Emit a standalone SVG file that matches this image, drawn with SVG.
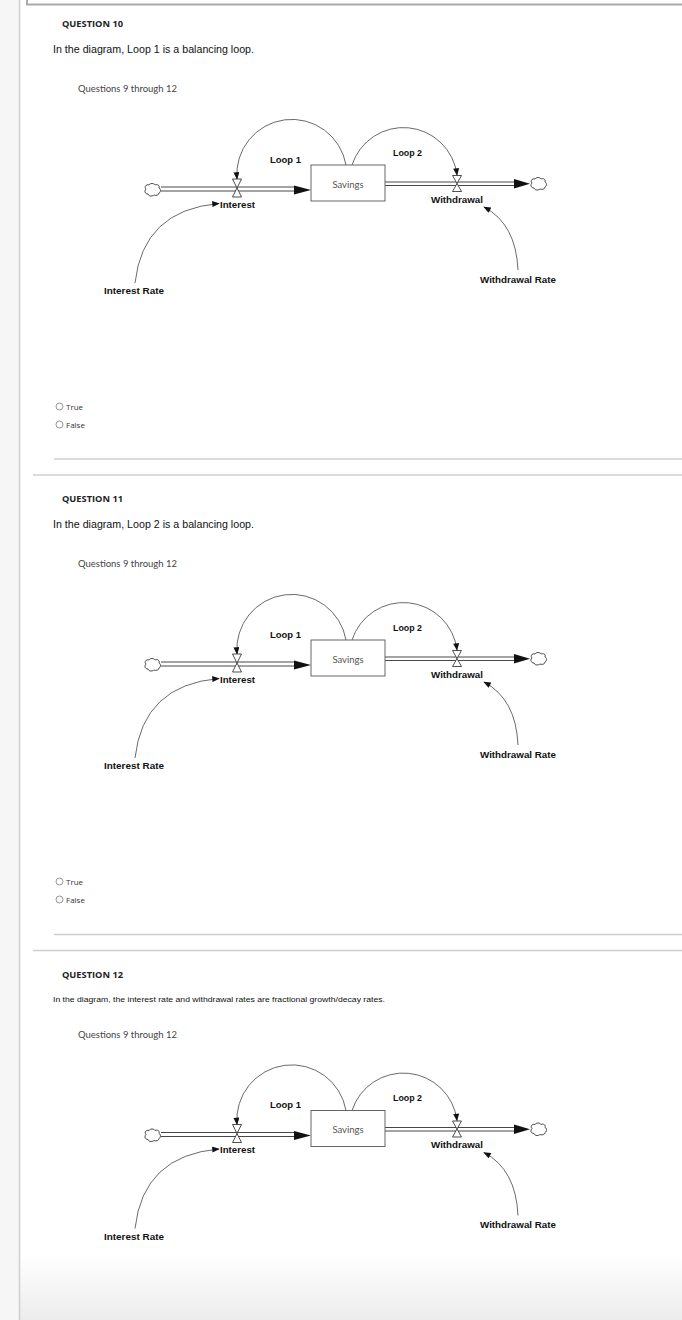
<svg xmlns="http://www.w3.org/2000/svg" xmlns:xlink="http://www.w3.org/1999/xlink" width="682" height="1320" viewBox="0 0 682 1320">
<style>
.hdr{font-family:"Open Sans","Liberation Sans",sans-serif;font-weight:bold;font-size:9px;fill:#222}
.q{font-family:"Liberation Sans",Arial,sans-serif;font-size:10px;fill:#111}
.qs{font-family:"Liberation Sans",Arial,sans-serif;font-size:8px;fill:#111}
.cap{font-family:Lato,"Open Sans",sans-serif;font-size:8.5px;fill:#444}
.opt{font-family:"Open Sans","Liberation Sans",sans-serif;font-size:8px;fill:#333}
.radio{fill:#fff;stroke:#777;stroke-width:0.8}
.sep{stroke:#cfcfcf;stroke-width:1.6}
.lbl{font-family:"Liberation Sans",Arial,sans-serif;font-weight:bold;font-size:9.5px;fill:#111}
.stock{fill:#fff;stroke:#666;stroke-width:1}
.stxt{font-family:Lato,"Open Sans",sans-serif;font-size:9.5px;fill:#555}
.pipe{stroke:#333;stroke-width:0.9;fill:none}
.valve{fill:#fff;stroke:#222;stroke-width:0.8}
.cloud{fill:#fff;stroke:#333;stroke-width:0.9}
.head{fill:#111}
.link{fill:none;stroke:#444;stroke-width:0.8}
</style>
<defs>
<marker id="ah" viewBox="0 0 10 8" refX="9" refY="4" markerWidth="9" markerHeight="6" markerUnits="userSpaceOnUse" orient="auto">
<path d="M0,0 L10,4 L0,8 z" fill="#111"/>
</marker>
<path id="cloudshape" d="M-5,5 c-3,0 -4,-3 -2,-5 c-2,-2 0,-5 3,-4 c1,-2 5,-2 6,0 c2,-1 5,0 4,3 c2,1 2,4 0,5 c0,2 -3,3 -5,2 c-1,1 -5,2 -6,-1 z"/>
<linearGradient id="fade" x1="0" y1="0" x2="0" y2="1">
<stop offset="0" stop-color="#ffffff"/>
<stop offset="1" stop-color="#ececec"/>
</linearGradient>
</defs>

<g id="page">
<rect x="0" y="0" width="682" height="1320" fill="#ffffff"/>
<rect x="0" y="0" width="19" height="1320" fill="#f6f6f6"/>
<rect x="20" y="1255" width="662" height="65" fill="url(#fade)"/>
<line x1="19.5" y1="0" x2="19.5" y2="1320" stroke="#cfcfcf" stroke-width="1.5"/>
<path d="M27,0 V4.5 H682" fill="none" stroke="#aaaaaa" stroke-width="2"/>
</g>

<!-- QUESTION 10 -->
<g id="q10">
<text class="hdr" x="62" y="27" textLength="61" lengthAdjust="spacingAndGlyphs">QUESTION 10</text>
<text class="q" x="53" y="53" textLength="201" lengthAdjust="spacingAndGlyphs">In the diagram, Loop 1 is a balancing loop.</text>
<text class="cap" x="78" y="92" textLength="99" lengthAdjust="spacingAndGlyphs">Questions 9 through 12</text>
<circle class="radio" cx="59.5" cy="406.5" r="3.5"/>
<text class="opt" x="66" y="409.5">True</text>
<circle class="radio" cx="59.5" cy="424.5" r="3.5"/>
<text class="opt" x="66" y="427.5">False</text>
<line class="sep" x1="54" y1="459" x2="682" y2="459"/>
<line class="sep" x1="33" y1="475" x2="682" y2="475"/>
</g>

<g id="diagram1">
<g id="d1-links">
<path class="pipe" d="M161,187 H296 M161,191 H296"/>
<path class="head" d="M294,185.5 L311,190 L294,194.5 z"/>
<path class="pipe" d="M385,182 H516 M385,185.5 H516"/>
<path class="head" d="M514,179 L530,183.7 L514,188.4 z"/>
<path class="link" d="M346,165 A55,55 0 0 0 237,179" marker-end="url(#ah)"/>
<path class="link" d="M352,165 A54,54 0 0 1 457,175" marker-end="url(#ah)"/>
<path class="link" d="M135,283 Q143,210 219,203.5" marker-end="url(#ah)"/>
<path class="link" d="M518,270 Q516,224 484,207" marker-end="url(#ah)"/>
</g>
<g id="d1-cloud-in"><use href="#cloudshape" class="cloud" x="153" y="189"/></g>
<g id="d1-savings"><rect class="stock" x="311" y="165" width="74" height="36"/><text class="stxt" x="348" y="187.5" text-anchor="middle">Savings</text></g>
<g id="d1-interest"><path class="valve" d="M232.5,179 L241.5,179 L237,188 z M237,188 L241.5,197 L232.5,197 z"/><text class="lbl" x="220" y="207.5" textLength="35" lengthAdjust="spacingAndGlyphs">Interest</text></g>
<g id="d1-withdrawal"><path class="valve" d="M452.5,175.5 L461.5,175.5 L457,183.5 z M457,183.5 L461.5,191.5 L452.5,191.5 z"/><text class="lbl" x="431" y="202.5" textLength="52" lengthAdjust="spacingAndGlyphs">Withdrawal</text></g>
<g id="d1-cloud-out"><use href="#cloudshape" class="cloud" x="539" y="183"/></g>
<g id="d1-interest-rate"><text class="lbl" x="104" y="294" textLength="60" lengthAdjust="spacingAndGlyphs">Interest Rate</text></g>
<g id="d1-withdrawal-rate"><text class="lbl" x="480" y="282.5" textLength="76" lengthAdjust="spacingAndGlyphs">Withdrawal Rate</text></g>
<g id="d1-loop1"><text class="lbl" x="270" y="162.5" textLength="31" lengthAdjust="spacingAndGlyphs">Loop 1</text></g>
<g id="d1-loop2"><text class="lbl" x="393" y="155.5" textLength="29" lengthAdjust="spacingAndGlyphs">Loop 2</text></g>
</g>

<!-- QUESTION 11 -->
<g id="q11" transform="translate(0,475)">
<text class="hdr" x="62" y="27" textLength="61" lengthAdjust="spacingAndGlyphs">QUESTION 11</text>
<text class="q" x="53" y="53" textLength="201" lengthAdjust="spacingAndGlyphs">In the diagram, Loop 2 is a balancing loop.</text>
<text class="cap" x="78" y="92" textLength="99" lengthAdjust="spacingAndGlyphs">Questions 9 through 12</text>
<circle class="radio" cx="59.5" cy="406.5" r="3.5"/>
<text class="opt" x="66" y="409.5">True</text>
<circle class="radio" cx="59.5" cy="424.5" r="3.5"/>
<text class="opt" x="66" y="427.5">False</text>
<line class="sep" x1="54" y1="459.5" x2="682" y2="459.5"/>
<line class="sep" x1="33" y1="475.5" x2="682" y2="475.5"/>
</g>

<g id="diagram2" transform="translate(0,475)">
<g id="d2-links">
<path class="pipe" d="M161,187 H296 M161,191 H296"/>
<path class="head" d="M294,185.5 L311,190 L294,194.5 z"/>
<path class="pipe" d="M385,182 H516 M385,185.5 H516"/>
<path class="head" d="M514,179 L530,183.7 L514,188.4 z"/>
<path class="link" d="M346,165 A55,55 0 0 0 237,179" marker-end="url(#ah)"/>
<path class="link" d="M352,165 A54,54 0 0 1 457,175" marker-end="url(#ah)"/>
<path class="link" d="M135,283 Q143,210 219,203.5" marker-end="url(#ah)"/>
<path class="link" d="M518,270 Q516,224 484,207" marker-end="url(#ah)"/>
</g>
<g id="d2-cloud-in"><use href="#cloudshape" class="cloud" x="153" y="189"/></g>
<g id="d2-savings"><rect class="stock" x="311" y="165" width="74" height="36"/><text class="stxt" x="348" y="187.5" text-anchor="middle">Savings</text></g>
<g id="d2-interest"><path class="valve" d="M232.5,179 L241.5,179 L237,188 z M237,188 L241.5,197 L232.5,197 z"/><text class="lbl" x="220" y="207.5" textLength="35" lengthAdjust="spacingAndGlyphs">Interest</text></g>
<g id="d2-withdrawal"><path class="valve" d="M452.5,175.5 L461.5,175.5 L457,183.5 z M457,183.5 L461.5,191.5 L452.5,191.5 z"/><text class="lbl" x="431" y="202.5" textLength="52" lengthAdjust="spacingAndGlyphs">Withdrawal</text></g>
<g id="d2-cloud-out"><use href="#cloudshape" class="cloud" x="539" y="183"/></g>
<g id="d2-interest-rate"><text class="lbl" x="104" y="294" textLength="60" lengthAdjust="spacingAndGlyphs">Interest Rate</text></g>
<g id="d2-withdrawal-rate"><text class="lbl" x="480" y="282.5" textLength="76" lengthAdjust="spacingAndGlyphs">Withdrawal Rate</text></g>
<g id="d2-loop1"><text class="lbl" x="270" y="162.5" textLength="31" lengthAdjust="spacingAndGlyphs">Loop 1</text></g>
<g id="d2-loop2"><text class="lbl" x="393" y="155.5" textLength="29" lengthAdjust="spacingAndGlyphs">Loop 2</text></g>
</g>

<!-- QUESTION 12 -->
<g id="q12">
<text class="hdr" x="62" y="978" textLength="61" lengthAdjust="spacingAndGlyphs">QUESTION 12</text>
<text class="qs" x="53" y="1002" textLength="332" lengthAdjust="spacingAndGlyphs">In the diagram, the interest rate and withdrawal rates are fractional growth/decay rates.</text>
<text class="cap" x="78" y="1038" textLength="99" lengthAdjust="spacingAndGlyphs">Questions 9 through 12</text>
</g>

<g id="diagram3" transform="translate(0,945.5)">
<g id="d3-links">
<path class="pipe" d="M161,187 H296 M161,191 H296"/>
<path class="head" d="M294,185.5 L311,190 L294,194.5 z"/>
<path class="pipe" d="M385,182 H516 M385,185.5 H516"/>
<path class="head" d="M514,179 L530,183.7 L514,188.4 z"/>
<path class="link" d="M346,165 A55,55 0 0 0 237,179" marker-end="url(#ah)"/>
<path class="link" d="M352,165 A54,54 0 0 1 457,175" marker-end="url(#ah)"/>
<path class="link" d="M135,283 Q143,210 219,203.5" marker-end="url(#ah)"/>
<path class="link" d="M518,270 Q516,224 484,207" marker-end="url(#ah)"/>
</g>
<g id="d3-cloud-in"><use href="#cloudshape" class="cloud" x="153" y="189"/></g>
<g id="d3-savings"><rect class="stock" x="311" y="165" width="74" height="36"/><text class="stxt" x="348" y="187.5" text-anchor="middle">Savings</text></g>
<g id="d3-interest"><path class="valve" d="M232.5,179 L241.5,179 L237,188 z M237,188 L241.5,197 L232.5,197 z"/><text class="lbl" x="220" y="207.5" textLength="35" lengthAdjust="spacingAndGlyphs">Interest</text></g>
<g id="d3-withdrawal"><path class="valve" d="M452.5,175.5 L461.5,175.5 L457,183.5 z M457,183.5 L461.5,191.5 L452.5,191.5 z"/><text class="lbl" x="431" y="202.5" textLength="52" lengthAdjust="spacingAndGlyphs">Withdrawal</text></g>
<g id="d3-cloud-out"><use href="#cloudshape" class="cloud" x="539" y="183"/></g>
<g id="d3-interest-rate"><text class="lbl" x="104" y="294" textLength="60" lengthAdjust="spacingAndGlyphs">Interest Rate</text></g>
<g id="d3-withdrawal-rate"><text class="lbl" x="480" y="282.5" textLength="76" lengthAdjust="spacingAndGlyphs">Withdrawal Rate</text></g>
<g id="d3-loop1"><text class="lbl" x="270" y="162.5" textLength="31" lengthAdjust="spacingAndGlyphs">Loop 1</text></g>
<g id="d3-loop2"><text class="lbl" x="393" y="155.5" textLength="29" lengthAdjust="spacingAndGlyphs">Loop 2</text></g>
</g>
</svg>
